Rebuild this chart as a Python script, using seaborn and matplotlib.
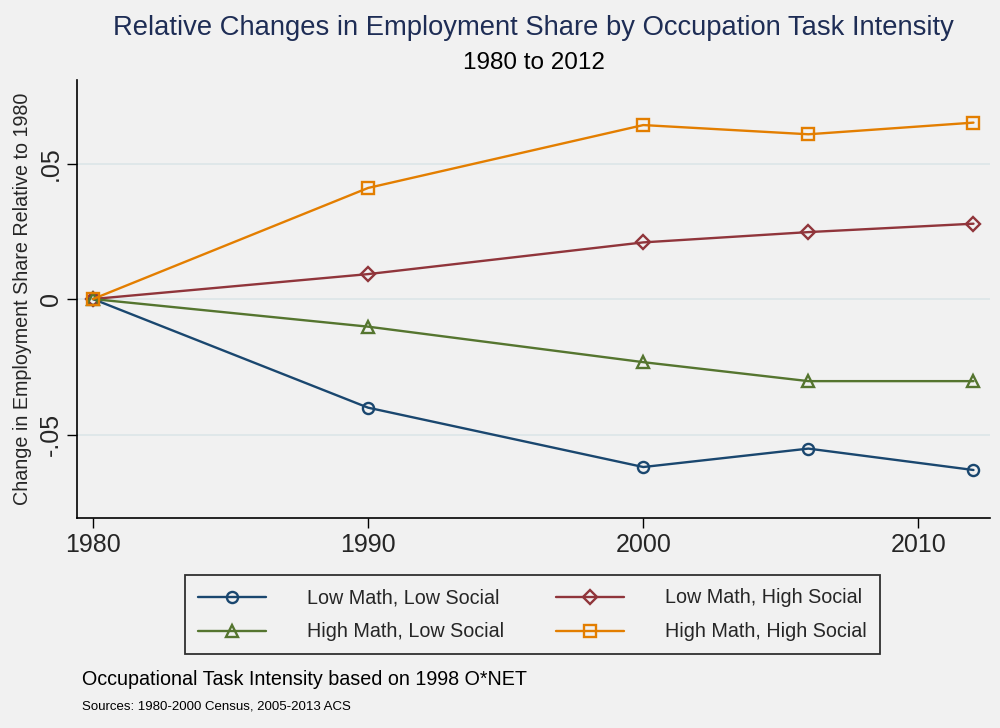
import pandas as pd
import matplotlib.pyplot as plt
import seaborn as sns

years = [1980, 1990, 2000, 2006, 2012]
low_math_low_social = [0.0, -0.0401, -0.0620, -0.0552, -0.0631]
low_math_high_social = [0.0, 0.0092, 0.0209, 0.0247, 0.0278]
high_math_low_social = [0.0, -0.0102, -0.0233, -0.0303, -0.0303]
high_math_high_social = [0.0, 0.0410, 0.0642, 0.0608, 0.0651]

series = [
    ('Low Math, Low Social', low_math_low_social, '#1a476f', 'o'),
    ('Low Math, High Social', low_math_high_social, '#90353b', 'D'),
    ('High Math, Low Social', high_math_low_social, '#55752f', '^'),
    ('High Math, High Social', high_math_high_social, '#e37e00', 's'),
]

bg = '#f1f1f1'
sns.set_theme(style='white')
plt.rcParams['font.family'] = ['Liberation Sans', 'DejaVu Sans']

fig = plt.figure(figsize=(10, 7.28), dpi=100, facecolor=bg)
ax = fig.add_axes([0.077, 0.2885, 0.913, 0.6015])
ax.set_facecolor(bg)

for name, vals, color, marker in series:
    df = pd.DataFrame({'year': years, 'change': vals})
    sns.lineplot(data=df, x='year', y='change', ax=ax, color=color, label=name,
                 marker=marker, markersize=8 if marker != 'D' else 7,
                 markerfacecolor='none', markeredgecolor=color,
                 markeredgewidth=1.7, linewidth=1.7)

ax.set_xlim(1979.42, 2012.6)
ax.set_ylim(-0.0808, 0.0808)
ax.set_xticks([1980, 1990, 2000, 2010])
ax.set_yticks([-0.05, 0, 0.05])
ax.set_yticklabels(['-.05', '0', '.05'], rotation=90, va='center')
ax.tick_params(axis='both', direction='out', length=7, width=1, color='black',
               labelsize=18, bottom=True, left=True, pad=4)
ax.tick_params(axis='y', pad=3)

ax.yaxis.grid(True, color='#dce5e8', linewidth=1.2)
ax.xaxis.grid(False)
sns.despine(ax=ax, top=True, right=True)
for side in ['left', 'bottom']:
    ax.spines[side].set_color('black')
    ax.spines[side].set_linewidth(1.2)

ax.set_xlabel('')
ax.set_ylabel('Change in Employment Share Relative to 1980', fontsize=14.2, labelpad=5)

handles, labels = ax.get_legend_handles_labels()
ax.get_legend().remove()
order = [0, 2, 1, 3]
leg = fig.legend([handles[i] for i in order], [labels[i] for i in order],
                 loc='center', bbox_to_anchor=(0.185, 0.1003, 0.695, 0.110),
                 mode='expand', ncol=2, fontsize=14.2, frameon=True, fancybox=False,
                 borderaxespad=0, handlelength=3.45, handletextpad=2.1,
                 borderpad=0.66, labelspacing=0.76, columnspacing=2.5)
leg.get_frame().set_edgecolor('black')
leg.get_frame().set_linewidth(1.3)
leg.get_frame().set_facecolor(bg)

fig.text(0.533, 0.961, 'Relative Changes in Employment Share by Occupation Task Intensity',
         ha='center', va='center', fontsize=19.7, color='#1e2d55')
fig.text(0.534, 0.913, '1980 to 2012', ha='center', va='center', fontsize=17.5, color='black')
fig.text(0.082, 0.066, 'Occupational Task Intensity based on 1998 O*NET',
         ha='left', va='center', fontsize=14.2, color='black')
fig.text(0.082, 0.030, 'Sources: 1980-2000 Census, 2005-2013 ACS',
         ha='left', va='center', fontsize=9.5, color='black')

plt.savefig('out.png', dpi=100, facecolor=bg)
